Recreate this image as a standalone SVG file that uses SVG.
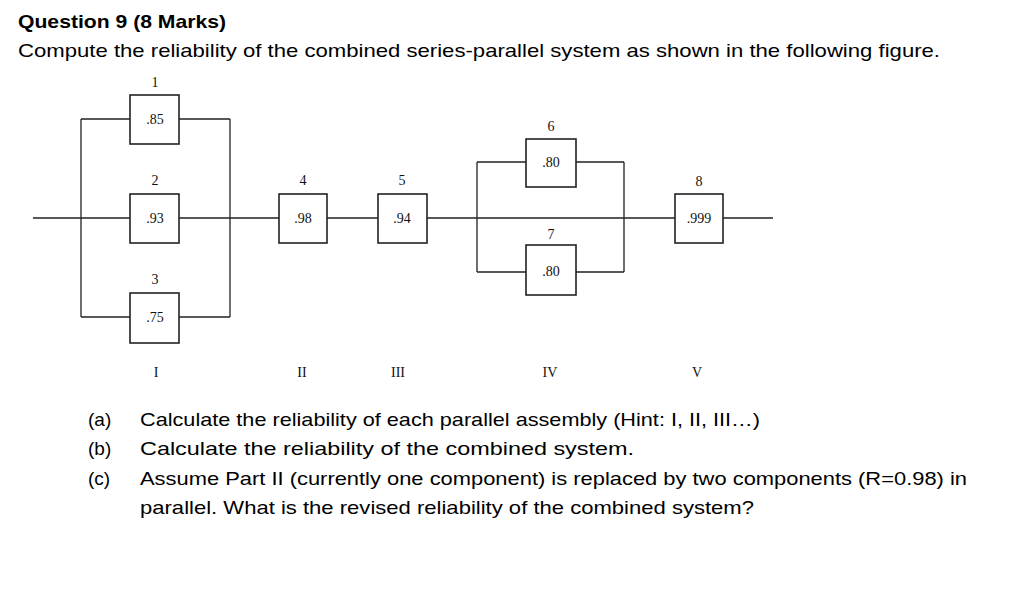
<svg xmlns="http://www.w3.org/2000/svg" width="1026" height="592" viewBox="0 0 1026 592">
<style>
.t{font-family:"Liberation Sans",Arial,sans-serif;font-size:19px;fill:#000}
.b{font-weight:bold}
.n{font-family:"Liberation Serif","Times New Roman",serif;font-size:14px;fill:#111;text-anchor:middle}
.bx{fill:#fff;stroke:#222;stroke-width:1.6}
.w{fill:none;stroke:#222;stroke-width:1.3}
</style>
<rect width="1026" height="592" fill="#fff"/>
<text class="t b" x="18" y="28" textLength="208" lengthAdjust="spacingAndGlyphs">Question 9 (8 Marks)</text>
<text class="t" x="18" y="57" textLength="922" lengthAdjust="spacingAndGlyphs">Compute the reliability of the combined series-parallel system as shown in the following figure.</text>
<g id="connectors">
<path class="w" d="M33 218H279M81 119V317M230 119V317M81 119H130M179 119H230M81 317H130M179 317H230M327 218H378M427 218H675M477 162V272M624 162V272M477 162H526M576 162H624M477 272H526M576 272H624M723 218H773"/>
</g>
<g id="n1"><rect class="bx" x="130" y="95" width="49" height="49"/><text class="n" x="155" y="87">1</text><text class="n" x="155" y="124">.85</text></g>
<g id="n2"><rect class="bx" x="130" y="194" width="49" height="49"/><text class="n" x="155" y="185">2</text><text class="n" x="155" y="223">.93</text></g>
<g id="n3"><rect class="bx" x="130" y="293" width="49" height="50"/><text class="n" x="155" y="284">3</text><text class="n" x="155" y="322">.75</text></g>
<g id="n4"><rect class="bx" x="279" y="194" width="48" height="49"/><text class="n" x="303" y="185">4</text><text class="n" x="303" y="223">.98</text></g>
<g id="n5"><rect class="bx" x="378" y="194" width="49" height="49"/><text class="n" x="402" y="185">5</text><text class="n" x="402" y="223">.94</text></g>
<g id="n6"><rect class="bx" x="526" y="139" width="50" height="48"/><text class="n" x="551" y="131">6</text><text class="n" x="551" y="167">.80</text></g>
<g id="n7"><rect class="bx" x="526" y="245" width="50" height="50"/><text class="n" x="551" y="239">7</text><text class="n" x="551" y="276">.80</text></g>
<g id="n8"><rect class="bx" x="675" y="194" width="48" height="49"/><text class="n" x="699" y="186">8</text><text class="n" x="699" y="223">.999</text></g>
<g id="stages">
<text class="n" x="156" y="377">I</text><text class="n" x="302" y="377">II</text><text class="n" x="398" y="377">III</text><text class="n" x="550" y="377">IV</text><text class="n" x="697" y="377">V</text>
</g>
<text class="t" x="88" y="426">(a)</text><text class="t" x="140" y="426" textLength="620" lengthAdjust="spacingAndGlyphs">Calculate the reliability of each parallel assembly (Hint: I, II, III…)</text>
<text class="t" x="88" y="455">(b)</text><text class="t" x="140" y="455" textLength="494" lengthAdjust="spacingAndGlyphs">Calculate the reliability of the combined system.</text>
<text class="t" x="88" y="485">(c)</text><text class="t" x="140" y="485" textLength="827" lengthAdjust="spacingAndGlyphs">Assume Part II (currently one component) is replaced by two components (R=0.98) in</text>
<text class="t" x="140" y="514" textLength="614" lengthAdjust="spacingAndGlyphs">parallel. What is the revised reliability of the combined system?</text>
</svg>
